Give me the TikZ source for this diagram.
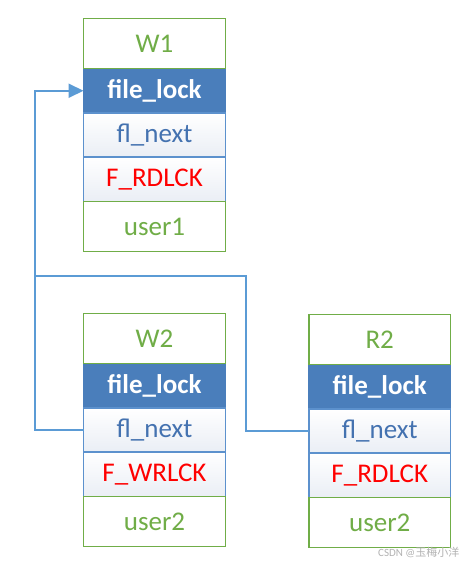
\documentclass[tikz,border=0pt]{standalone}
\usepackage{fontspec}
\setmainfont{Carlito}
\newfontfamily\cjk{Noto Sans CJK SC}
\usetikzlibrary{arrows.meta}
\definecolor{grn}{RGB}{112,173,71}
\definecolor{flfill}{RGB}{74,126,187}
\definecolor{midblue}{RGB}{92,145,205}
\definecolor{shade}{RGB}{234,238,245}
\definecolor{txtblue}{RGB}{68,114,176}
\definecolor{lnblue}{RGB}{91,155,213}
\tikzset{
  row/.style={rectangle,inner sep=0pt,outer sep=0pt,anchor=north west,font=\fontsize{27}{31}\selectfont},
  hdr/.style={row,draw=grn,line width=1.6pt,fill=white,text=grn},
  flk/.style={row,fill=flfill,draw=flfill,line width=1.6pt,text=white,font=\fontsize{27}{31}\selectfont\bfseries},
  midrow/.style={row,draw=midblue,line width=1.6pt,top color=white,bottom color=shade},
  usr/.style={row,draw=grn,line width=1.6pt,fill=white,text=grn},
  conn/.style={draw=lnblue,line width=2pt},
  wm/.style={inner sep=0pt,text=black!30,font=\fontsize{11}{13}\selectfont}
}
\newcommand{\lockbox}[7]{%
  % #1 prefix, #2 x, #3 y top, #4 width, #5 title, #6 flag, #7 user
  \node[flk,minimum width=#4pt,minimum height=44.5pt] (#1f) at (#2,#3+50) {file\_lock};
  \node[midrow,minimum width=#4pt,minimum height=44pt,text=txtblue] (#1n) at (#2,#3+94.5) {fl\_next};
  \node[midrow,minimum width=#4pt,minimum height=44.5pt,text=red] (#1l) at (#2,#3+138.5) {#6};
  \node[hdr,minimum width=#4pt,minimum height=50pt] (#1h) at (#2,#3) {#5};
  \node[usr,minimum width=#4pt,minimum height=50pt] (#1u) at (#2,#3+183) {#7};
}
\begin{document}
\begin{tikzpicture}[x=1pt,y=-1pt]
\useasboundingbox (0,0) rectangle (474,564);
\fill[white] (0,0) rectangle (474,564);
\lockbox{wa}{83.5}{18.5}{142}{W1}{F\_RDLCK}{user1}
\lockbox{wb}{83.5}{313.5}{142}{W2}{F\_WRLCK}{user2}
\lockbox{rb}{309}{314.5}{141.5}{R2}{F\_RDLCK}{user2}
\coordinate (j) at (35,276);
\draw[conn,-{Triangle[length=15pt,width=14pt]}] (wbn.west) -- ++(-48.5,0) |- (waf.west);
\draw[conn] (rbn.west) -- ++(-63,0) |- (j);
\node[wm,anchor=west] (wmk) at (378,552) {CSDN @{\cjk 玉梅小洋}};
\end{tikzpicture}
\end{document}
